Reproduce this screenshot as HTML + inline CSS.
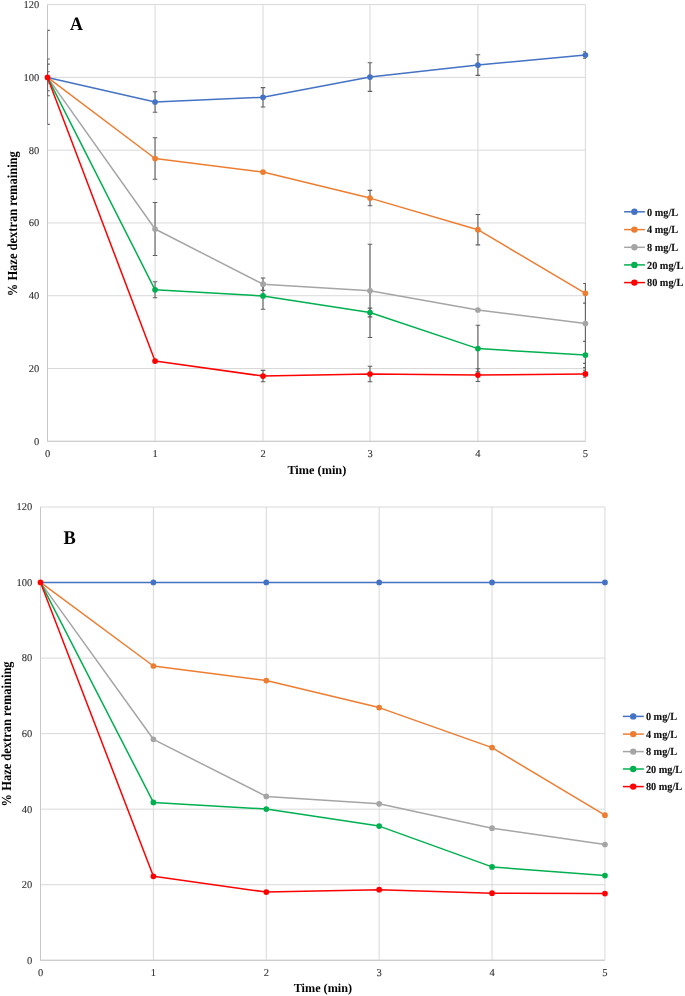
<!DOCTYPE html>
<html lang="en"><head><meta charset="utf-8"><title>Haze dextran remaining</title>
<style>html,body{margin:0;padding:0;background:#fff}svg{display:block}text{font-family:"Liberation Serif", serif;text-rendering:geometricPrecision}</style>
</head><body>
<svg width="685" height="996" viewBox="0 0 685 996">
<rect width="685" height="996" fill="#fff"/>
<g id="plotA">
<g stroke="#D9D9D9" stroke-width="1" fill="none" shape-rendering="auto">
<line x1="47.5" y1="4.6" x2="585.4" y2="4.6"/>
<line x1="47.5" y1="77.38" x2="585.4" y2="77.38"/>
<line x1="47.5" y1="150.17" x2="585.4" y2="150.17"/>
<line x1="47.5" y1="222.95" x2="585.4" y2="222.95"/>
<line x1="47.5" y1="295.73" x2="585.4" y2="295.73"/>
<line x1="47.5" y1="368.52" x2="585.4" y2="368.52"/>
<line x1="47.5" y1="441.3" x2="585.4" y2="441.3"/>
<line x1="47.5" y1="4.6" x2="47.5" y2="441.3"/>
<line x1="155.05" y1="4.6" x2="155.05" y2="441.3"/>
<line x1="263" y1="4.6" x2="263" y2="441.3"/>
<line x1="370" y1="4.6" x2="370" y2="441.3"/>
<line x1="477.9" y1="4.6" x2="477.9" y2="441.3"/>
<line x1="585.4" y1="4.6" x2="585.4" y2="441.3"/>
</g>
<path d="M47.5 4.6V441.3H585.4" fill="none" stroke="#C8C8C8" stroke-width="1"/>
<clipPath id="clipA"><rect x="47.45" y="4.6" width="538.55" height="436.7"/></clipPath>
<polyline points="47.5,77.4 155.05,102 263,97.3 370,77.05 477.9,65.1 585.4,55" fill="none" stroke="#4472C4" stroke-width="1.5" stroke-linejoin="round" stroke-linecap="round"/>
<polyline points="47.5,77.4 155.05,158.5 263,172.1 370,198.1 477.9,229.7 585.4,293.3" fill="none" stroke="#ED7D31" stroke-width="1.5" stroke-linejoin="round" stroke-linecap="round"/>
<polyline points="47.5,77.4 155.05,229 263,284.2 370,290.85 477.9,310 585.4,323.6" fill="none" stroke="#A5A5A5" stroke-width="1.5" stroke-linejoin="round" stroke-linecap="round"/>
<polyline points="47.5,77.4 155.05,289.8 263,295.9 370,312.5 477.9,348.6 585.4,355.1" fill="none" stroke="#00B050" stroke-width="1.5" stroke-linejoin="round" stroke-linecap="round"/>
<polyline points="47.5,77.4 155.05,361.1 263,376.1 370,374 477.9,375.1 585.4,373.9" fill="none" stroke="#FF0000" stroke-width="1.5" stroke-linejoin="round" stroke-linecap="round"/>
<g stroke="#606060" stroke-width="1.1" fill="none" clip-path="url(#clipA)">
<path d="M47.5 64.1V90.7M45.2 64.1H49.8M45.2 90.7H49.8"/>
<path d="M155.05 91.7V112.3M152.75 91.7H157.35M152.75 112.3H157.35"/>
<path d="M263 87.6V107M260.7 87.6H265.3M260.7 107H265.3"/>
<path d="M370 62.75V91.35M367.7 62.75H372.3M367.7 91.35H372.3"/>
<path d="M477.9 54.8V75.4M475.6 54.8H480.2M475.6 75.4H480.2"/>
<path d="M585.4 51.7V58.3M583.1 51.7H587.7M583.1 58.3H587.7"/>
<path d="M47.5 59V95.8M45.2 59H49.8M45.2 95.8H49.8"/>
<path d="M155.05 137.8V179.2M152.75 137.8H157.35M152.75 179.2H157.35"/>
<path d="M370 190.4V205.8M367.7 190.4H372.3M367.7 205.8H372.3"/>
<path d="M477.9 214.5V244.9M475.6 214.5H480.2M475.6 244.9H480.2"/>
<path d="M47.5 30.4V124.4M45.2 30.4H49.8M45.2 124.4H49.8"/>
<path d="M155.05 202.5V255.5M152.75 202.5H157.35M152.75 255.5H157.35"/>
<path d="M263 278V290.4M260.7 278H265.3M260.7 290.4H265.3"/>
<path d="M370 244.25V337.45M367.7 244.25H372.3M367.7 337.45H372.3"/>
<path d="M47.5 71.8V83M45.2 71.8H49.8M45.2 83H49.8"/>
<path d="M155.05 281.8V297.8M152.75 281.8H157.35M152.75 297.8H157.35"/>
<path d="M263 282.6V309.2M260.7 282.6H265.3M260.7 309.2H265.3"/>
<path d="M370 308.1V316.9M367.7 308.1H372.3M367.7 316.9H372.3"/>
<path d="M477.9 325.3V371.9M475.6 325.3H480.2M475.6 371.9H480.2"/>
<path d="M263 370.4V381.8M260.7 370.4H265.3M260.7 381.8H265.3"/>
<path d="M370 366.2V381.8M367.7 366.2H372.3M367.7 381.8H372.3"/>
<path d="M477.9 368.7V381.5M475.6 368.7H480.2M475.6 381.5H480.2"/>
<path d="M585.4 283.5V377.2M583.1 283.5H587.7M583.1 303.1H587.7M583.1 341.4H587.7M583.1 363.4H587.7M583.1 367.6H587.7M583.1 370.2H587.7M583.1 377.2H587.7"/>
</g>
<g fill="#4472C4">
<circle cx="155.05" cy="102" r="2.85"/>
<circle cx="263" cy="97.3" r="2.85"/>
<circle cx="370" cy="77.05" r="2.85"/>
<circle cx="477.9" cy="65.1" r="2.85"/>
<circle cx="585.4" cy="55" r="2.85"/>
</g>
<g fill="#ED7D31">
<circle cx="155.05" cy="158.5" r="2.85"/>
<circle cx="263" cy="172.1" r="2.85"/>
<circle cx="370" cy="198.1" r="2.85"/>
<circle cx="477.9" cy="229.7" r="2.85"/>
<circle cx="585.4" cy="293.3" r="2.85"/>
</g>
<g fill="#A5A5A5">
<circle cx="155.05" cy="229" r="2.85"/>
<circle cx="263" cy="284.2" r="2.85"/>
<circle cx="370" cy="290.85" r="2.85"/>
<circle cx="477.9" cy="310" r="2.85"/>
<circle cx="585.4" cy="323.6" r="2.85"/>
</g>
<g fill="#00B050">
<circle cx="155.05" cy="289.8" r="2.85"/>
<circle cx="263" cy="295.9" r="2.85"/>
<circle cx="370" cy="312.5" r="2.85"/>
<circle cx="477.9" cy="348.6" r="2.85"/>
<circle cx="585.4" cy="355.1" r="2.85"/>
</g>
<g fill="#FF0000">
<circle cx="47.5" cy="77.4" r="2.85"/>
<circle cx="155.05" cy="361.1" r="2.85"/>
<circle cx="263" cy="376.1" r="2.85"/>
<circle cx="370" cy="374" r="2.85"/>
<circle cx="477.9" cy="375.1" r="2.85"/>
<circle cx="585.4" cy="373.9" r="2.85"/>
</g>
</g>
<g id="plotB">
<g stroke="#D9D9D9" stroke-width="1" fill="none" shape-rendering="auto">
<line x1="40.5" y1="507" x2="604.95" y2="507"/>
<line x1="40.5" y1="582.54" x2="604.95" y2="582.54"/>
<line x1="40.5" y1="658.08" x2="604.95" y2="658.08"/>
<line x1="40.5" y1="733.62" x2="604.95" y2="733.62"/>
<line x1="40.5" y1="809.17" x2="604.95" y2="809.17"/>
<line x1="40.5" y1="884.71" x2="604.95" y2="884.71"/>
<line x1="40.5" y1="960.25" x2="604.95" y2="960.25"/>
<line x1="40.5" y1="507" x2="40.5" y2="960.25"/>
<line x1="153.39" y1="507" x2="153.39" y2="960.25"/>
<line x1="266.28" y1="507" x2="266.28" y2="960.25"/>
<line x1="379.17" y1="507" x2="379.17" y2="960.25"/>
<line x1="492.06" y1="507" x2="492.06" y2="960.25"/>
<line x1="604.95" y1="507" x2="604.95" y2="960.25"/>
</g>
<path d="M40.5 507V960.25H604.95" fill="none" stroke="#C8C8C8" stroke-width="1"/>
<clipPath id="clipB"><rect x="40.45" y="507" width="565.1" height="453.25"/></clipPath>
<polyline points="40.5,582.4 153.39,582.4 266.28,582.4 379.17,582.4 492.06,582.4 604.95,582.4" fill="none" stroke="#4472C4" stroke-width="1.5" stroke-linejoin="round" stroke-linecap="round"/>
<polyline points="40.5,582.4 153.39,666 266.28,680.6 379.17,707.6 492.06,747.6 604.95,815.2" fill="none" stroke="#ED7D31" stroke-width="1.5" stroke-linejoin="round" stroke-linecap="round"/>
<polyline points="40.5,582.4 153.39,739.3 266.28,796.4 379.17,803.8 492.06,828.2 604.95,844.5" fill="none" stroke="#A5A5A5" stroke-width="1.5" stroke-linejoin="round" stroke-linecap="round"/>
<polyline points="40.5,582.4 153.39,802.4 266.28,809.05 379.17,826.1 492.06,866.9 604.95,875.6" fill="none" stroke="#00B050" stroke-width="1.5" stroke-linejoin="round" stroke-linecap="round"/>
<polyline points="40.5,582.4 153.39,876.3 266.28,892.1 379.17,889.7 492.06,893.2 604.95,893.6" fill="none" stroke="#FF0000" stroke-width="1.5" stroke-linejoin="round" stroke-linecap="round"/>
<g fill="#4472C4">
<circle cx="153.39" cy="582.4" r="2.85"/>
<circle cx="266.28" cy="582.4" r="2.85"/>
<circle cx="379.17" cy="582.4" r="2.85"/>
<circle cx="492.06" cy="582.4" r="2.85"/>
<circle cx="604.95" cy="582.4" r="2.85"/>
</g>
<g fill="#ED7D31">
<circle cx="153.39" cy="666" r="2.85"/>
<circle cx="266.28" cy="680.6" r="2.85"/>
<circle cx="379.17" cy="707.6" r="2.85"/>
<circle cx="492.06" cy="747.6" r="2.85"/>
<circle cx="604.95" cy="815.2" r="2.85"/>
</g>
<g fill="#A5A5A5">
<circle cx="153.39" cy="739.3" r="2.85"/>
<circle cx="266.28" cy="796.4" r="2.85"/>
<circle cx="379.17" cy="803.8" r="2.85"/>
<circle cx="492.06" cy="828.2" r="2.85"/>
<circle cx="604.95" cy="844.5" r="2.85"/>
</g>
<g fill="#00B050">
<circle cx="153.39" cy="802.4" r="2.85"/>
<circle cx="266.28" cy="809.05" r="2.85"/>
<circle cx="379.17" cy="826.1" r="2.85"/>
<circle cx="492.06" cy="866.9" r="2.85"/>
<circle cx="604.95" cy="875.6" r="2.85"/>
</g>
<g fill="#FF0000">
<circle cx="40.5" cy="582.4" r="2.85"/>
<circle cx="153.39" cy="876.3" r="2.85"/>
<circle cx="266.28" cy="892.1" r="2.85"/>
<circle cx="379.17" cy="889.7" r="2.85"/>
<circle cx="492.06" cy="893.2" r="2.85"/>
<circle cx="604.95" cy="893.6" r="2.85"/>
</g>
</g>
<g font-size="10.5" fill="#333333" stroke="#333333" stroke-width="0.12">
<text x="39.2" y="8" text-anchor="end">120</text>
<text x="39.2" y="80.78" text-anchor="end">100</text>
<text x="39.2" y="153.57" text-anchor="end">80</text>
<text x="39.2" y="226.35" text-anchor="end">60</text>
<text x="39.2" y="299.13" text-anchor="end">40</text>
<text x="39.2" y="371.92" text-anchor="end">20</text>
<text x="39.2" y="444.7" text-anchor="end">0</text>
<text x="47.5" y="457.4" text-anchor="middle">0</text>
<text x="155.05" y="457.4" text-anchor="middle">1</text>
<text x="263" y="457.4" text-anchor="middle">2</text>
<text x="370" y="457.4" text-anchor="middle">3</text>
<text x="477.9" y="457.4" text-anchor="middle">4</text>
<text x="585.4" y="457.4" text-anchor="middle">5</text>
</g>
<g font-size="10.5" fill="#333333" stroke="#333333" stroke-width="0.12">
<text x="32.3" y="510.4" text-anchor="end">120</text>
<text x="32.3" y="585.94" text-anchor="end">100</text>
<text x="32.3" y="661.48" text-anchor="end">80</text>
<text x="32.3" y="737.02" text-anchor="end">60</text>
<text x="32.3" y="812.57" text-anchor="end">40</text>
<text x="32.3" y="888.11" text-anchor="end">20</text>
<text x="32.3" y="963.65" text-anchor="end">0</text>
<text x="40.5" y="975.8" text-anchor="middle">0</text>
<text x="153.39" y="975.8" text-anchor="middle">1</text>
<text x="266.28" y="975.8" text-anchor="middle">2</text>
<text x="379.17" y="975.8" text-anchor="middle">3</text>
<text x="492.06" y="975.8" text-anchor="middle">4</text>
<text x="604.95" y="975.8" text-anchor="middle">5</text>
</g>
<g font-weight="bold" fill="#000">
<text x="316.85" y="474.0" font-size="12.3" text-anchor="middle" textLength="58.9" lengthAdjust="spacingAndGlyphs">Time (min)</text>
<text x="322.9" y="991.8" font-size="12.3" text-anchor="middle" textLength="58.4" lengthAdjust="spacingAndGlyphs">Time (min)</text>
<text transform="translate(17.4 223.7) rotate(-90) scale(1 1.08)" font-size="12.8" text-anchor="middle" textLength="145" lengthAdjust="spacingAndGlyphs">% Haze dextran remaining</text>
<text transform="translate(11.0 733.9) rotate(-90) scale(1 1.08)" font-size="12.8" text-anchor="middle" textLength="145" lengthAdjust="spacingAndGlyphs">% Haze dextran remaining</text>
<text transform="translate(69.9 30.0) scale(1 1.05)" font-size="17.9">A</text>
<text transform="translate(63.5 543.9) scale(1 1.06)" font-size="18.4">B</text>
</g>
<g font-weight="bold" font-size="10.3" fill="#111" stroke="#111" stroke-width="0.1">
<line x1="624.1" y1="211.8" x2="644.9" y2="211.8" stroke="#4472C4" stroke-width="1.5"/>
<circle cx="634.4" cy="211.8" r="3.2" fill="#4472C4" stroke="none"/>
<text transform="translate(647 215.6) scale(1 1.05)">0 mg/L</text>
<line x1="624.1" y1="229.6" x2="644.9" y2="229.6" stroke="#ED7D31" stroke-width="1.5"/>
<circle cx="634.4" cy="229.6" r="3.2" fill="#ED7D31" stroke="none"/>
<text transform="translate(647 233.4) scale(1 1.05)">4 mg/L</text>
<line x1="624.1" y1="247.3" x2="644.9" y2="247.3" stroke="#A5A5A5" stroke-width="1.5"/>
<circle cx="634.4" cy="247.3" r="3.2" fill="#A5A5A5" stroke="none"/>
<text transform="translate(647 251.1) scale(1 1.05)">8 mg/L</text>
<line x1="624.1" y1="264.9" x2="644.9" y2="264.9" stroke="#00B050" stroke-width="1.5"/>
<circle cx="634.4" cy="264.9" r="3.2" fill="#00B050" stroke="none"/>
<text transform="translate(647 268.7) scale(1 1.05)">20 mg/L</text>
<line x1="624.1" y1="282.6" x2="644.9" y2="282.6" stroke="#FF0000" stroke-width="1.5"/>
<circle cx="634.4" cy="282.6" r="3.2" fill="#FF0000" stroke="none"/>
<text transform="translate(647 286.4) scale(1 1.05)">80 mg/L</text>
</g>
<g font-weight="bold" font-size="10.3" fill="#111" stroke="#111" stroke-width="0.1">
<line x1="622.9" y1="716.4" x2="643.8" y2="716.4" stroke="#4472C4" stroke-width="1.5"/>
<circle cx="633.2" cy="716.4" r="3.2" fill="#4472C4" stroke="none"/>
<text transform="translate(645.9 720.2) scale(1 1.05)">0 mg/L</text>
<line x1="622.9" y1="734.1" x2="643.8" y2="734.1" stroke="#ED7D31" stroke-width="1.5"/>
<circle cx="633.2" cy="734.1" r="3.2" fill="#ED7D31" stroke="none"/>
<text transform="translate(645.9 737.9) scale(1 1.05)">4 mg/L</text>
<line x1="622.9" y1="751.6" x2="643.8" y2="751.6" stroke="#A5A5A5" stroke-width="1.5"/>
<circle cx="633.2" cy="751.6" r="3.2" fill="#A5A5A5" stroke="none"/>
<text transform="translate(645.9 755.4) scale(1 1.05)">8 mg/L</text>
<line x1="622.9" y1="769" x2="643.8" y2="769" stroke="#00B050" stroke-width="1.5"/>
<circle cx="633.2" cy="769" r="3.2" fill="#00B050" stroke="none"/>
<text transform="translate(645.9 772.8) scale(1 1.05)">20 mg/L</text>
<line x1="622.9" y1="786.6" x2="643.8" y2="786.6" stroke="#FF0000" stroke-width="1.5"/>
<circle cx="633.2" cy="786.6" r="3.2" fill="#FF0000" stroke="none"/>
<text transform="translate(645.9 790.4) scale(1 1.05)">80 mg/L</text>
</g>
</svg></body></html>
